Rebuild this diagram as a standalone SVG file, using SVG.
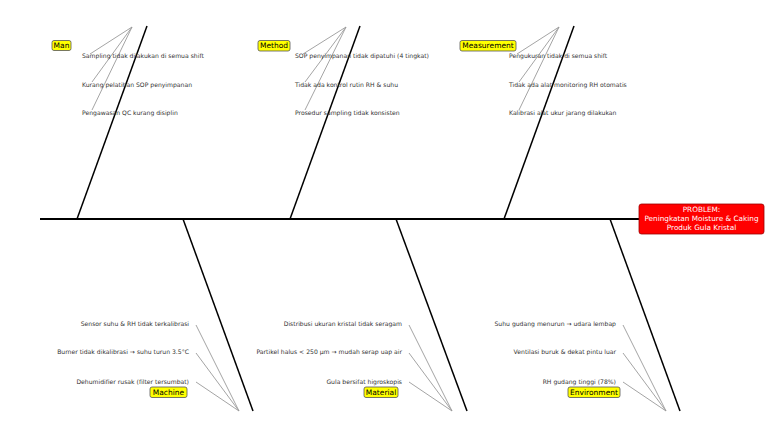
<svg xmlns="http://www.w3.org/2000/svg" width="768" height="439" viewBox="0 0 768 439">
<style>
.bg{fill:#ffffff}
.spine{stroke:#000;stroke-width:2;fill:none}
.bone{stroke:#000;stroke-width:1.5;fill:none}
.sub{stroke:#9a9a9a;stroke-width:0.9;fill:none}
.cause{font-family:"DejaVu Sans",Verdana,sans-serif;font-size:6.1px;fill:#333}
.lbl{fill:#ffff00;stroke:#555;stroke-width:0.8}
.lbltxt{font-family:"DejaVu Sans",Verdana,sans-serif;font-size:7.5px;fill:#000;text-anchor:middle}
.prob{fill:#ff0000;stroke:#990000;stroke-width:0.8}
.probtxt{font-family:"DejaVu Sans",Verdana,sans-serif;font-size:7.3px;fill:#fff;text-anchor:middle}
.r{text-anchor:end}
</style>
<rect class="bg" x="0" y="0" width="768" height="439"/>
<g id="connectors">
<line class="spine" x1="40" y1="219" x2="639" y2="219"/>
<line class="bone" x1="147" y1="26" x2="77" y2="219"/>
<line class="bone" x1="360" y1="26" x2="290" y2="219"/>
<line class="bone" x1="574" y1="26" x2="504" y2="219"/>
<line class="bone" x1="183" y1="219" x2="253" y2="411"/>
<line class="bone" x1="396" y1="219" x2="467" y2="411"/>
<line class="bone" x1="610" y1="219" x2="680" y2="411"/>
<path class="sub" d="M132,27 L90,54 M132,27 L92,82 M132,27 L92,110"/>
<path class="sub" d="M346,27 L303,54 M346,27 L305,82 M346,27 L305,110"/>
<path class="sub" d="M559,27 L517,54 M559,27 L519,82 M559,27 L519,110"/>
<path class="sub" d="M196,325 L239,411 M196,353 L239,411 M196,382 L239,411"/>
<path class="sub" d="M409,325 L452,411 M409,353 L452,411 M409,382 L452,411"/>
<path class="sub" d="M623,325 L666,411 M623,353 L666,411 M623,382 L666,411"/>
</g>
<g id="problem">
<rect class="prob" x="639" y="204" width="125" height="30" rx="2.5"/>
<text class="probtxt" x="701.5" y="211.5">PROBLEM:</text>
<text class="probtxt" x="701.5" y="220.8">Peningkatan Moisture &amp; Caking</text>
<text class="probtxt" x="701.5" y="230">Produk Gula Kristal</text>
</g>
<g id="man">
<rect class="lbl" x="52" y="40.5" width="19" height="10" rx="2"/>
<text class="lbltxt" x="61.5" y="48.2">Man</text>
<text class="cause" x="82" y="58">Sampling tidak dilakukan di semua shift</text>
<text class="cause" x="82" y="87">Kurang pelatihan SOP penyimpanan</text>
<text class="cause" x="82" y="115">Pengawasan QC kurang disiplin</text>
</g>
<g id="method">
<rect class="lbl" x="258" y="40.5" width="32" height="10.5" rx="2"/>
<text class="lbltxt" x="274" y="48.4">Method</text>
<text class="cause" x="295" y="58">SOP penyimpanan tidak dipatuhi (4 tingkat)</text>
<text class="cause" x="295" y="87">Tidak ada kontrol rutin RH &amp; suhu</text>
<text class="cause" x="295" y="115">Prosedur sampling tidak konsisten</text>
</g>
<g id="measurement">
<rect class="lbl" x="460" y="40.5" width="56" height="10.5" rx="2"/>
<text class="lbltxt" x="488" y="48.4">Measurement</text>
<text class="cause" x="509" y="58">Pengukuran tidak di semua shift</text>
<text class="cause" x="509" y="87">Tidak ada alat monitoring RH otomatis</text>
<text class="cause" x="509" y="115">Kalibrasi alat ukur jarang dilakukan</text>
</g>
<g id="machine">
<text class="cause r" x="189" y="326">Sensor suhu &amp; RH tidak terkalibrasi</text>
<text class="cause r" x="189" y="354">Burner tidak dikalibrasi → suhu turun 3.5°C</text>
<text class="cause r" x="189" y="384">Dehumidifier rusak (filter tersumbat)</text>
<rect class="lbl" x="150" y="387" width="37" height="10.5" rx="2"/>
<text class="lbltxt" x="168.5" y="395">Machine</text>
</g>
<g id="material">
<text class="cause r" x="402" y="326">Distribusi ukuran kristal tidak seragam</text>
<text class="cause r" x="402" y="354">Partikel halus &lt; 250 μm → mudah serap uap air</text>
<text class="cause r" x="402" y="384">Gula bersifat higroskopis</text>
<rect class="lbl" x="364" y="387" width="34" height="10.5" rx="2"/>
<text class="lbltxt" x="381" y="395">Material</text>
</g>
<g id="environment">
<text class="cause r" x="616" y="326">Suhu gudang menurun → udara lembap</text>
<text class="cause r" x="616" y="354">Ventilasi buruk &amp; dekat pintu luar</text>
<text class="cause r" x="616" y="384">RH gudang tinggi (78%)</text>
<rect class="lbl" x="568" y="387" width="52" height="10.5" rx="2"/>
<text class="lbltxt" x="594" y="395">Environment</text>
</g>
</svg>
